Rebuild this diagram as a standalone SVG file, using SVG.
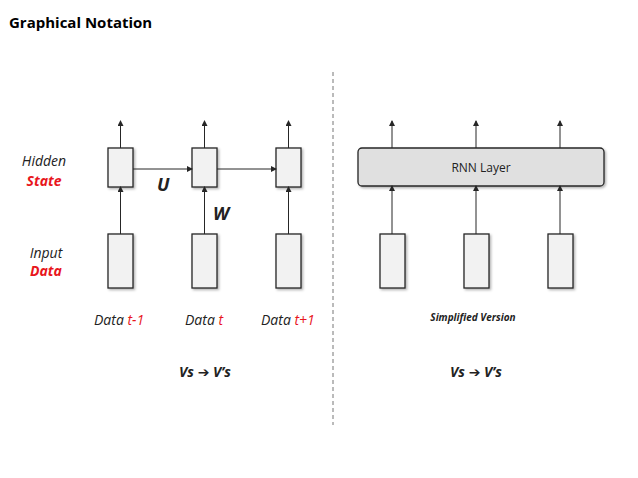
<svg xmlns="http://www.w3.org/2000/svg" width="638" height="478" viewBox="0 0 638 478">
<style>
.b{fill:#f2f2f2;stroke:#262626;stroke-width:1.3}
.c{stroke:#262626;stroke-width:1;fill:none;marker-end:url(#a)}
.t{font-family:"Open Sans","Liberation Sans",sans-serif;font-style:italic;font-size:14px;fill:#222}
.r{fill:#e8161c}
.bo{font-weight:bold}
.ar{font-family:"DejaVu Sans",sans-serif;font-style:normal}
</style>
<defs>
<marker id="a" markerWidth="6" markerHeight="6" refX="5" refY="3" orient="auto" markerUnits="userSpaceOnUse"><path d="M0,0L6,3L0,6z" fill="#262626"/></marker>
<filter id="s" x="-20%" y="-20%" width="150%" height="150%"><feDropShadow dx="1.5" dy="1.5" stdDeviation="1" flood-opacity="0.3"/></filter>
</defs>
<rect width="638" height="478" fill="#fff"/>
<text x="9" y="28" font-family="Open Sans,Liberation Sans,sans-serif" font-weight="bold" font-size="15" fill="#000">Graphical Notation</text>
<line x1="333" y1="72" x2="333" y2="425" stroke="#777" stroke-dasharray="4,3"/>
<g id="labels">
<text class="t" x="44" y="166" text-anchor="middle">Hidden</text>
<text class="t r bo" x="44" y="186" text-anchor="middle">State</text>
<text class="t" x="46" y="258" text-anchor="middle">Input</text>
<text class="t r bo" x="46" y="276" text-anchor="middle">Data</text>
<text class="t" x="94" y="325">Data <tspan class="r">t-1</tspan></text>
<text class="t" x="185" y="325">Data <tspan class="r">t</tspan></text>
<text class="t" x="261" y="325">Data <tspan class="r">t+1</tspan></text>
<text class="t bo" x="157" y="191" style="font-size:18px">U</text>
<text class="t bo" x="213" y="220" style="font-size:18px">W</text>
<text class="t bo" x="205" y="377" text-anchor="middle">Vs <tspan class="ar">➔</tspan> V’s</text>
<text class="t bo" x="473" y="321" text-anchor="middle" style="font-size:10px">Simplified Version</text>
<text class="t bo" x="476" y="377" text-anchor="middle">Vs <tspan class="ar">➔</tspan> V’s</text>
</g>
<g id="h1"><rect class="b" filter="url(#s)" x="108" y="148" width="25" height="39"/></g>
<g id="h2"><rect class="b" filter="url(#s)" x="192" y="148" width="25" height="39"/></g>
<g id="h3"><rect class="b" filter="url(#s)" x="276" y="148" width="25" height="39"/></g>
<g id="i1"><rect class="b" filter="url(#s)" x="108" y="234" width="25" height="54"/></g>
<g id="i2"><rect class="b" filter="url(#s)" x="192" y="234" width="25" height="54"/></g>
<g id="i3"><rect class="b" filter="url(#s)" x="276" y="234" width="25" height="54"/></g>
<g id="rnn"><rect x="358" y="148" width="246" height="38" rx="4" fill="#e0e0e0" stroke="#262626" stroke-width="1.3" filter="url(#s)"/>
<text x="481" y="172" text-anchor="middle" font-family="Open Sans,Liberation Sans,sans-serif" font-size="12" fill="#222">RNN Layer</text></g>
<g id="j1"><rect class="b" filter="url(#s)" x="380" y="234" width="25" height="54"/></g>
<g id="j2"><rect class="b" filter="url(#s)" x="464" y="234" width="25" height="54"/></g>
<g id="j3"><rect class="b" filter="url(#s)" x="548" y="234" width="25" height="54"/></g>
<g id="connectors">
<path class="c" d="M120.5 148V121"/><path class="c" d="M204.5 148V121"/><path class="c" d="M288.5 148V121"/>
<path class="c" d="M120.5 234V187"/><path class="c" d="M204.5 234V187"/><path class="c" d="M288.5 234V187"/>
<path class="c" d="M133 169H192"/><path class="c" d="M217 169H276"/>
<path class="c" d="M392 148V121"/><path class="c" d="M476 148V121"/><path class="c" d="M560 148V121"/>
<path class="c" d="M392 234V186"/><path class="c" d="M476 234V186"/><path class="c" d="M560 234V186"/>
</g>
</svg>
